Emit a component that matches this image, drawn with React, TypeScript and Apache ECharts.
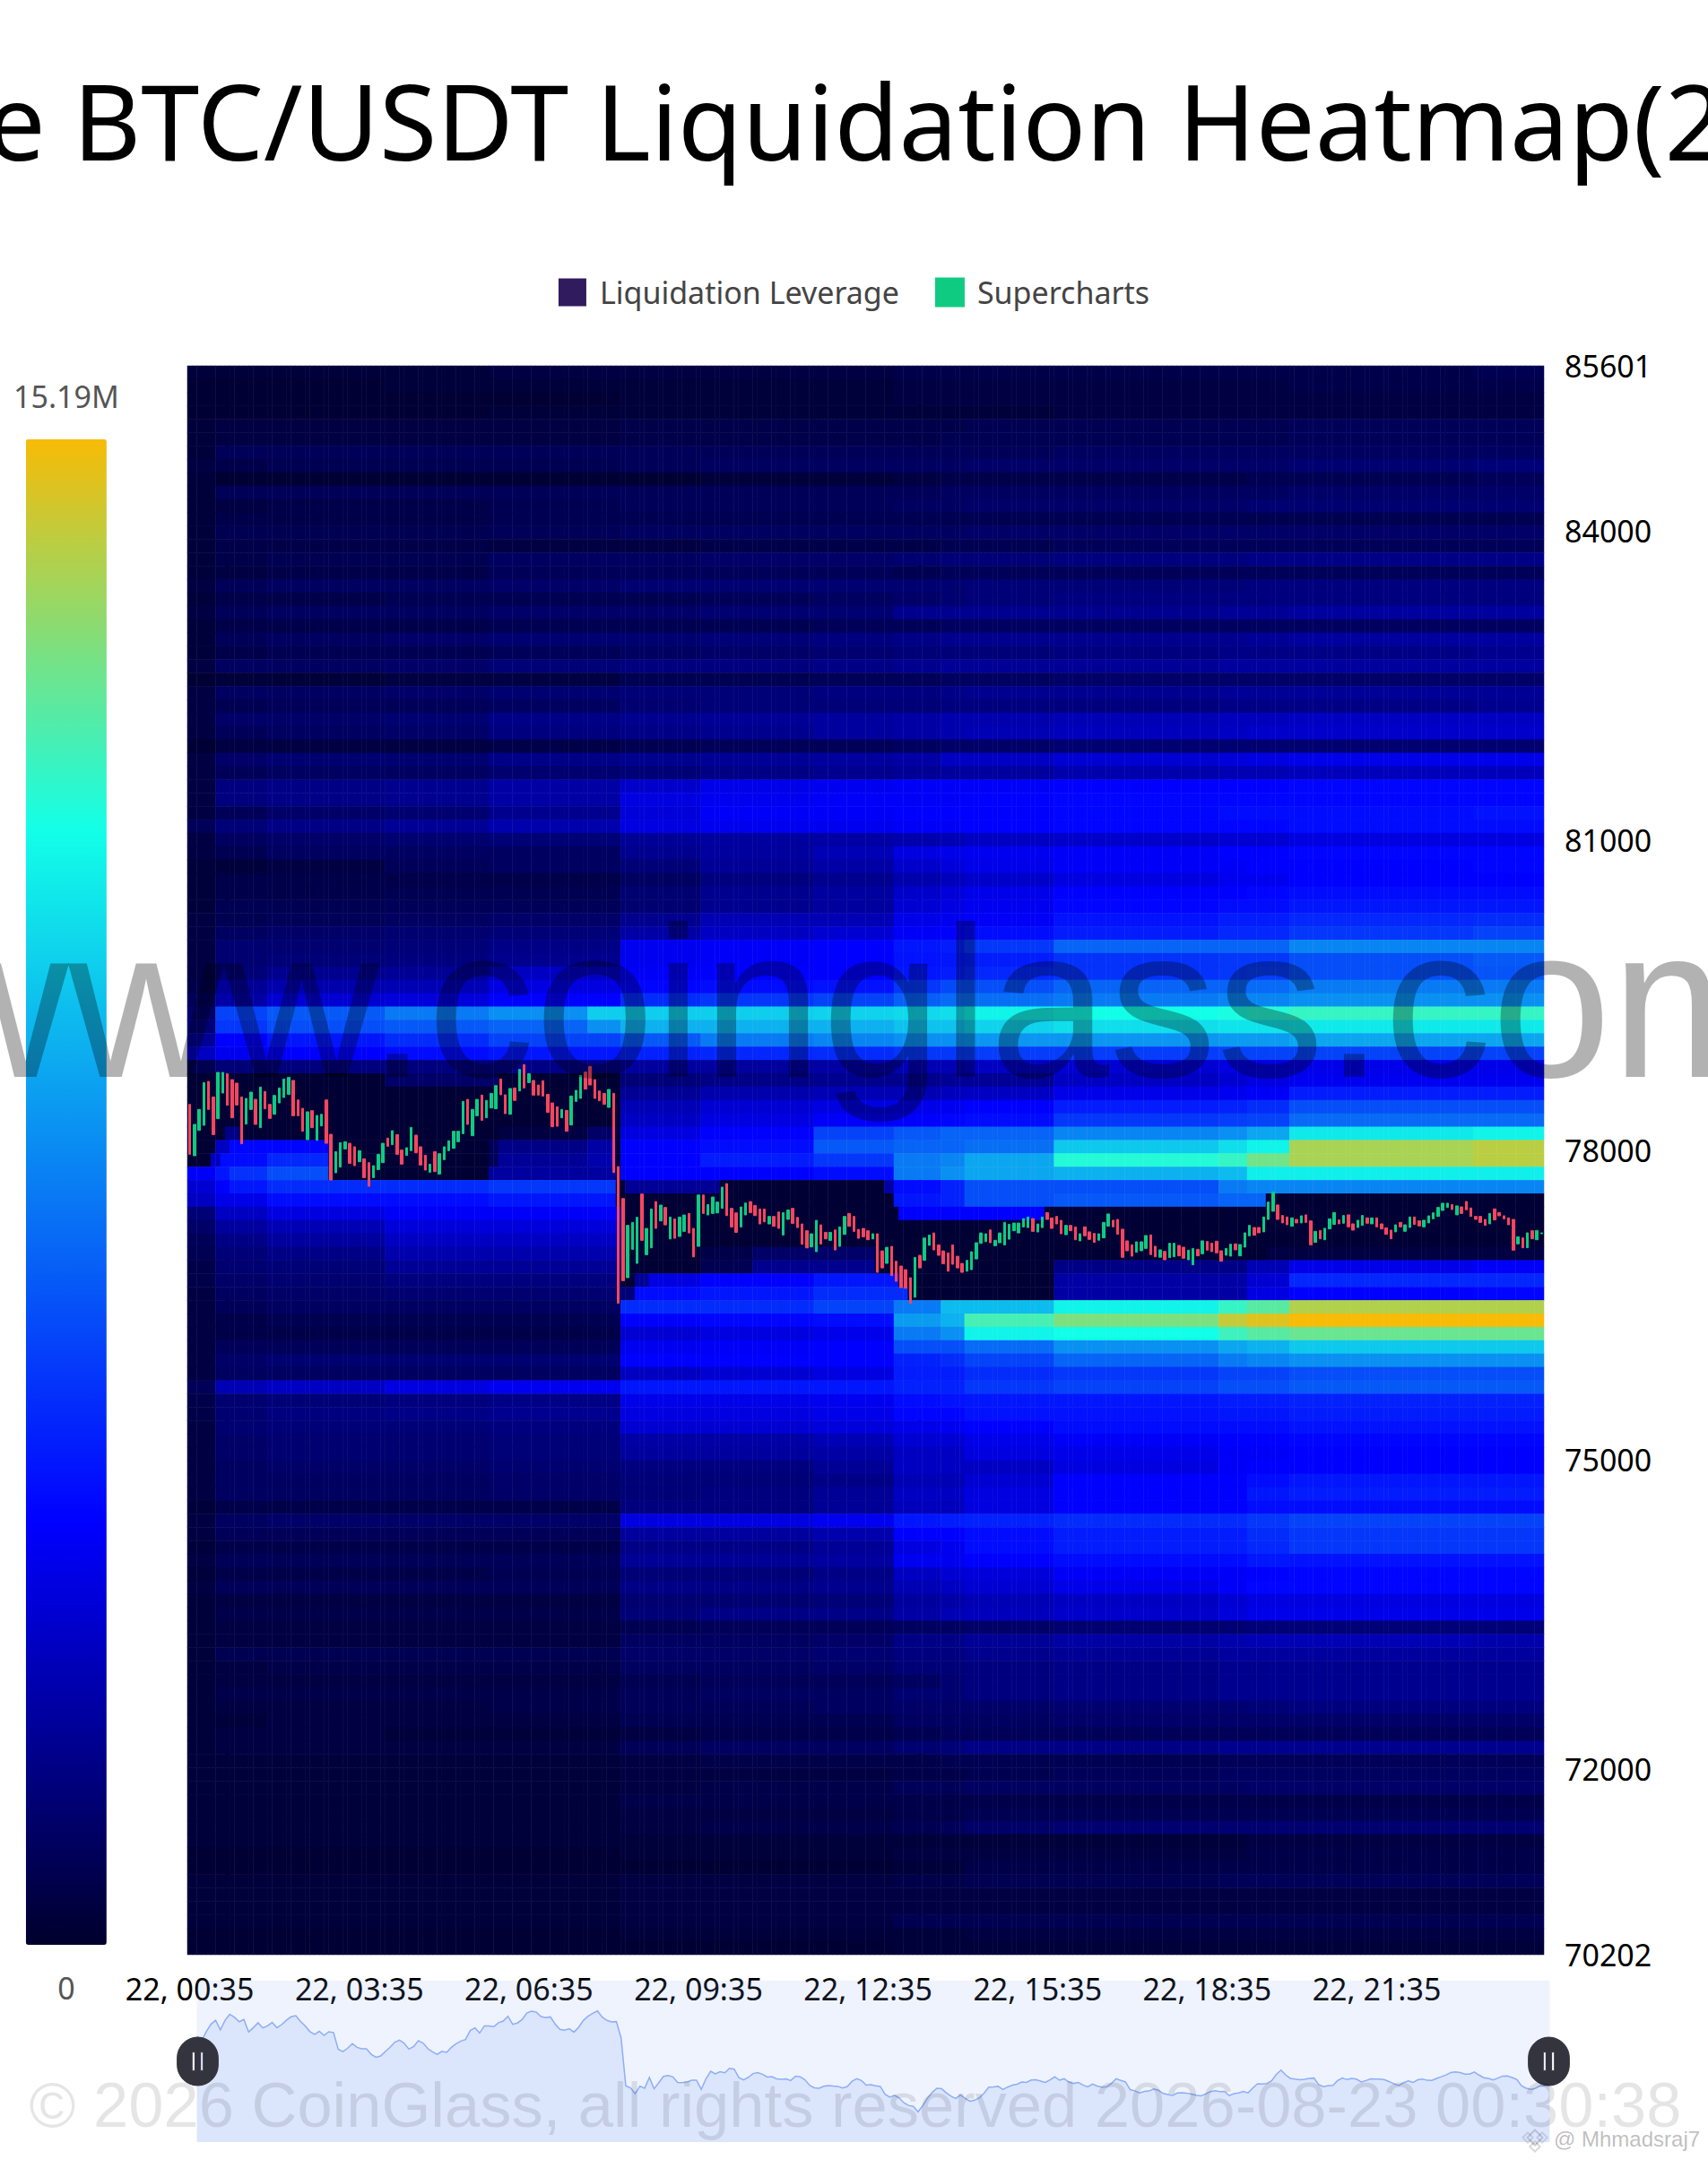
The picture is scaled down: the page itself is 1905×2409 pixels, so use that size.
import React, { useEffect, useRef } from "react";
import * as echarts from "echarts";

const maxLiquidation = 15190000;
const priceTicks = [85601, 84000, 81000, 78000, 75000, 72000, 70202];
const rowCount = 119;

// candle index where each heat column starts
const columnStarts = [0, 6, 17, 42, 64, 92, 109, 133, 150, 160, 165, 184, 219, 225, 234, 273];

// heat levels in percent of the maximum, top row first
const heatRows = [
[2,2,2,2,3,3,3,3,4,4,4,4,4,4,4,5],[1,1,1,2,2,2,2,2,3,3,3,3,3,3,4,4],[1,1,1,1,1,2,2,2,3,3,3,3,3,3,3,3],[1,1,1,1,2,2,2,2,2,2,2,3,3,3,3,3],
[2,3,3,3,3,4,4,4,4,4,5,5,5,5,6,6],[2,3,3,3,3,4,4,4,4,5,5,5,5,5,6,6],[2,6,6,6,6,6,6,6,6,6,6,7,7,7,7,7],[3,4,5,5,5,6,7,7,7,7,8,8,8,8,9,10],
[2,1,1,1,1,1,2,2,3,4,4,4,4,5,5,6],[2,6,6,6,6,6,6,6,6,7,7,7,7,7,8,8],[2,3,4,4,5,6,6,6,7,7,8,8,8,9,9,9],[2,4,4,4,5,5,5,5,5,5,5,5,5,5,5,5],
[2,5,5,5,6,7,7,7,7,7,8,8,8,8,8,8],[2,4,4,4,3,3,4,4,4,5,5,6,6,6,6,6],[2,4,5,5,7,7,8,8,9,10,10,11,11,12,12,12],[2,3,4,4,6,6,6,6,5,6,6,6,6,6,6,6],
[3,6,7,7,8,9,9,9,9,9,10,10,10,11,11,11],[2,4,4,5,5,5,6,7,8,9,10,11,11,11,11,11],[3,6,7,7,8,8,9,9,13,13,13,13,14,14,15,15],[2,4,4,4,5,5,5,6,6,7,7,7,7,7,7,7],
[2,6,7,8,9,9,10,11,12,13,13,13,13,14,15,15],[2,4,5,5,6,7,8,9,10,10,10,11,12,12,12,13],[3,7,7,8,10,11,11,12,13,14,14,14,15,15,15,15],[1,2,2,3,3,5,5,6,6,7,7,8,8,8,8,8],
[3,7,7,8,9,10,10,11,11,12,13,13,14,14,14,14],[3,5,6,6,7,9,10,10,10,11,11,11,12,12,12,13],[3,8,8,9,12,13,14,15,16,17,17,18,19,19,20,20],[3,6,7,8,11,12,13,15,16,17,18,19,20,21,21,21],
[1,3,3,3,4,5,6,6,7,8,8,9,9,9,9,9],[3,8,9,9,12,13,14,15,16,20,20,22,23,24,25,25],[3,6,7,7,9,10,12,13,14,15,15,17,18,18,19,19],[3,11,12,13,16,21,25,26,27,27,27,28,28,28,29,29],
[3,11,12,13,16,24,26,27,27,27,28,29,29,29,29,29],[3,6,8,9,13,23,27,27,28,28,28,29,30,30,30,31],[6,10,12,14,17,24,26,26,27,27,28,29,29,29,30,30],[3,7,8,9,10,14,15,16,17,18,20,21,22,22,24,24],
[3,5,7,7,7,13,15,18,24,25,26,27,28,28,29,29],[2,2,3,6,7,10,14,16,21,23,25,27,27,28,28,29],[2,4,4,4,4,7,11,13,17,19,21,24,26,26,28,28],[2,4,4,5,5,9,13,15,21,23,25,28,28,29,30,30],
[2,5,5,6,6,9,13,15,22,24,26,29,30,30,32,32],[3,5,6,7,8,13,18,18,25,26,27,31,33,33,35,36],[3,7,8,9,10,16,20,22,27,28,30,33,35,35,38,40],[3,9,9,10,12,26,27,28,32,33,38,46,46,46,52,52],
[3,9,10,11,13,26,27,28,31,32,33,37,38,38,42,44],[3,10,13,14,20,27,28,28,32,33,35,37,38,39,42,43],[4,14,17,18,24,29,30,31,38,41,42,46,46,47,50,50],[6,16,22,23,28,36,38,40,45,47,48,50,52,52,54,54],
[8,40,44,50,54,65,65,66,67,68,72,74,75,76,78,78],[10,38,42,44,46,60,60,60,63,63,66,68,69,69,70,70],[14,28,32,36,40,44,50,52,54,54,55,55,56,56,58,58],[20,26,28,30,32,34,35,36,38,38,39,39,40,40,40,40],
[5,10,11,11,12,15,15,16,18,18,20,22,24,24,25,25],[1,1,1,1,1,10,12,13,13,14,14,20,22,24,26,26],[1,1,1,1,1,14,17,18,18,19,20,25,26,27,33,33],[1,1,1,1,1,18,22,24,25,26,28,33,34,36,42,42],
[1,1,1,1,1,20,24,27,28,29,30,38,39,40,47,47],[1,1,1,1,1,24,28,40,44,46,46,52,54,58,70,72],[1,1,1,1,1,28,30,44,46,46,48,64,68,72,91,93],[1,1,1,1,1,28,33,38,50,52,58,76,78,85,91,93],
[1,1,1,1,1,28,28,30,50,54,58,60,62,71,71,71],[1,1,1,1,1,1,1,1,30,34,42,42,50,52,52,52],[1,1,1,1,1,1,1,1,32,34,42,44,46,46,1,1],[10,20,24,27,27,1,1,1,1,1,1,1,1,1,1,1],
[8,15,18,23,23,1,1,1,1,1,1,1,1,1,1,1],[6,12,15,20,20,1,1,1,1,1,1,1,1,1,1,1],[5,10,12,17,17,1,1,1,1,1,1,1,1,1,3,3],[4,9,10,14,14,1,1,1,1,1,1,12,12,18,25,27],
[4,8,9,11,11,1,1,1,1,1,1,16,16,22,35,35],[3,7,8,9,9,1,1,1,1,1,1,16,16,24,28,29],[3,6,7,7,7,36,36,40,50,62,62,72,78,82,92,92],[3,4,5,5,5,28,29,30,56,60,80,86,94,97,100,100],
[3,4,4,4,4,22,24,25,50,54,72,74,79,82,84,84],[3,6,6,6,6,26,27,28,42,42,47,54,58,60,64,64],[3,8,9,9,9,28,28,28,34,36,40,46,50,52,54,54],[3,7,7,7,7,20,22,24,33,33,36,38,40,40,42,42],
[6,18,20,24,26,32,32,32,34,34,38,40,42,42,44,44],[4,9,10,11,12,25,25,26,30,31,32,32,33,33,34,34],[4,9,11,12,13,24,24,25,29,29,31,31,32,32,33,33],[3,9,10,10,11,22,22,23,25,26,28,30,30,30,31,31],
[3,8,9,9,10,16,16,18,22,22,25,27,28,28,29,29],[3,8,9,9,10,15,15,16,20,20,24,25,27,27,28,28],[3,7,8,8,9,11,11,14,20,20,20,24,27,28,28,28],[3,7,7,7,8,10,10,12,18,18,22,28,28,30,32,32],
[3,7,7,7,8,10,11,14,20,20,24,28,28,32,33,33],[2,4,4,4,4,11,11,14,19,19,24,28,28,30,30,30],[3,7,8,8,8,24,24,26,32,33,34,36,36,38,40,40],[3,6,6,6,6,15,15,17,28,28,30,33,33,36,38,38],
[2,4,4,4,4,12,12,14,24,26,30,33,33,35,38,38],[3,6,6,6,6,14,14,15,26,26,28,30,30,32,31,31],[2,4,4,4,5,10,10,12,20,22,23,27,27,28,29,29],[3,6,6,6,6,12,12,13,18,20,22,25,27,29,29,29],
[2,3,3,3,3,9,9,10,15,16,18,20,22,24,24,24],[2,4,4,4,4,10,12,12,16,18,19,21,23,25,25,25],[2,3,3,3,3,5,6,6,7,7,8,9,9,10,10,10],[2,3,3,3,3,7,7,8,12,12,14,16,17,18,18,17],
[2,5,5,5,5,8,8,9,11,11,13,14,15,15,15,15],[2,3,4,4,4,7,7,8,10,10,11,12,13,13,13,13],[2,3,3,3,3,5,6,6,7,9,11,12,13,13,13,13],[2,4,4,4,4,6,7,7,9,9,11,12,13,13,13,13],
[2,3,3,3,4,6,6,7,8,8,8,9,9,10,11,11],[2,2,3,3,3,5,5,5,7,7,7,8,8,8,8,8],[2,3,3,2,2,3,4,4,5,6,6,6,6,6,6,6],[2,3,3,3,3,6,7,7,9,10,12,12,13,13,13,13],
[2,2,2,2,2,3,4,4,4,5,5,5,6,6,6,6],[2,2,2,2,2,3,3,3,4,4,5,6,7,7,7,7],[2,2,2,2,2,3,4,4,6,6,7,7,7,8,8,8],[2,2,2,2,2,4,4,4,4,4,4,4,4,4,4,4],
[2,2,2,2,2,3,3,3,4,4,5,5,5,5,5,5],[2,2,2,2,2,3,4,4,5,6,8,9,9,9,9,9],[2,2,2,2,2,2,2,2,2,2,2,2,2,3,3,3],[1,1,1,1,1,2,2,2,3,3,3,3,3,4,4,4],
[1,1,1,1,1,1,1,1,2,2,4,4,4,4,4,4],[2,2,2,2,2,3,3,3,4,4,5,5,6,6,6,6],[2,2,2,2,2,3,3,3,3,3,3,3,3,3,3,3],[2,2,2,2,2,3,3,3,3,3,3,3,3,3,3,3],
[2,2,2,2,2,3,3,3,5,5,5,5,5,5,5,5],[1,1,1,1,1,2,2,2,2,2,3,3,3,3,3,3],[1,1,1,1,1,1,1,1,2,2,2,2,2,2,2,2],
];

// local corrections: first candle, end candle, first row, last row, level
const heatPatches = [
[85,92,48,48,65],[85,92,49,49,54],
[42,66,53,53,8],
[8,11,57,57,12],[66,85,57,57,3],[85,91,57,57,8],
[6,9,58,58,20],[9,30,58,58,29],[64,66,58,58,6],[66,85,58,58,12],[85,91,58,58,16],
[5,7,59,59,20],[7,17,59,59,30],[17,30,59,59,35],[64,66,59,59,6],[66,85,59,59,14],[85,91,59,59,17],
[0,6,60,60,27],[6,9,60,60,32],[9,17,60,60,37],[17,30,60,60,42],[64,91,60,60,15],
[0,6,61,61,22],[6,9,61,61,28],[9,17,61,61,32],[17,64,61,61,36],[64,91,61,61,38],[93,113,61,61,14],[148,150,61,61,16],
[0,6,62,62,20],[6,17,62,62,25],[17,64,62,62,30],[64,91,62,62,32],[229,234,62,62,1],
[151,182,63,63,28],
[109,120,66,66,4],[120,146,66,66,8],[229,234,66,66,3],
[109,120,67,67,5],[120,146,67,67,13],
[95,98,68,68,14],[98,109,68,68,24],[109,133,68,68,28],[133,151,68,68,32],
[92,95,69,69,10],[95,109,69,69,30],[109,133,69,69,32],[133,153,69,69,36],
];

const candleTops = [
78443,78249,78394,78654,78666,78515,78753,78753,78741,78683,78649,78515,78501,78562,78492,78611,78568,78443,78530,78602,
78689,78704,78675,78486,78405,78371,78382,78336,78347,78486,78153,77985,78072,78081,78066,78032,77994,77916,77878,77849,
77959,78066,78116,78188,78150,78000,78023,78220,78145,78032,77950,77864,77985,77965,78032,78090,78182,78182,78472,78492,
78394,78492,78533,78481,78550,78625,78689,78536,78597,78602,78782,78828,78741,78675,78631,78672,78541,78457,78420,78394,
78385,78524,78579,78724,78756,78811,78683,78573,78550,78588,78550,77840,77530,77270,77299,77348,77574,77241,77429,77501,
77467,77444,77351,77333,77351,77371,77386,77241,77565,77565,77472,77545,77496,77641,77675,77435,77391,77449,77487,77501,
77464,77429,77429,77357,77357,77400,77394,77420,77435,77348,77284,77218,77189,77319,77275,77203,77203,77226,77255,77357,
77386,77357,77232,77241,77218,77189,77189,77023,77058,77067,76922,76876,76841,76763,76960,76980,77148,77177,77197,77081,
77023,77003,77081,76971,76902,76931,77015,77102,77197,77189,77226,77125,77197,77299,77281,77293,77293,77336,77351,77336,
77284,77351,77394,77342,77357,77319,77270,77270,77255,77189,77256,77207,77192,77189,77299,77381,77320,77328,77233,77120,
77082,77111,77111,77172,77178,77068,77033,77018,77097,77097,77076,77059,77030,77047,77039,77120,77114,77097,77117,77024,
77047,77088,77091,77085,77198,77270,77250,77250,77352,77496,77595,77468,77366,77352,77343,77328,77363,77372,77314,77213,
77221,77242,77334,77395,77323,77366,77372,77285,77320,77366,77343,77343,77343,77285,77247,77224,77276,77299,77276,77352,
77352,77314,77320,77363,77392,77444,77485,77485,77473,77459,77450,77502,77439,77357,77357,77328,77386,77430,77395,77363,
77343,77328,77160,77149,77198,77218,77221,77198,
];
const candleBottoms = [
77959,77945,78191,78240,78394,78150,78304,78553,78434,78313,78437,78061,78252,78394,78249,78217,78400,78307,78347,78457,
78510,78539,78333,78333,78182,78101,78217,78095,78234,78066,77710,77780,77835,78011,77872,77849,77887,77733,77649,77733,
77811,77878,78037,78052,77959,77864,77948,77994,77974,77855,77806,77785,77791,77768,77907,77994,78017,78081,78159,78249,
78139,78333,78289,78313,78408,78400,78536,78353,78347,78481,78573,78602,78654,78533,78533,78524,78365,78226,78231,78313,
78182,78243,78472,78501,78591,78631,78501,78478,78443,78414,77782,76516,76734,76763,77038,76902,77125,76986,77052,77241,
77313,77275,77139,77145,77163,77212,77197,76965,77067,77386,77371,77386,77391,77435,77365,77255,77203,77255,77371,77394,
77365,77284,77304,77284,77261,77241,77177,77328,77290,77249,77087,77052,77061,77015,77090,77139,77125,77032,77067,77183,
77261,77212,77145,77160,77131,77139,76815,76858,76902,76783,76728,76667,76661,76516,76574,76858,76931,77076,77032,76980,
76899,76826,76893,76858,76815,76826,76841,76945,77096,77113,77102,77073,77102,77081,77136,77218,77197,77255,77249,77212,
77206,77249,77328,77241,77284,77189,77180,77218,77131,77120,77169,77134,77105,77126,77149,77262,77256,77184,76961,77024,
76972,77010,77024,77047,76987,76966,76961,76937,76958,76966,76975,76952,76937,76888,76975,76995,77030,77016,77004,76923,
76981,76972,77033,76975,77059,77169,77175,77198,77207,77328,77407,77328,77294,77276,77262,77294,77294,77299,77082,77105,
77140,77131,77236,77279,77285,77291,77256,77224,77250,77270,77291,77285,77256,77236,77184,77140,77207,77256,77213,77250,
77279,77265,77256,77294,77334,77357,77415,77444,77424,77372,77386,77421,77357,77328,77299,77270,77285,77323,77363,77334,
77276,77030,77091,77053,77053,77140,77131,77189,
];
const candleDirections =
  "rgggrrggrr" + "rrggrgrrgg" + "ggrrrgrggr" + "rgggrrgrrg" + "ggrgrrggrr" + "rgrggggggr" + "ggrgggrrgr" + "grgrrrrrrg" + "rgggrrrrrg" +
  "rrrgggrggr" + "grgrggrrgr" + "ggggrrrggr" + "rrrgrrggrr" + "rrggrrgrgg" + "rrrrrgrrgr" + "rrrrgrggrr" + "rrrrrggggg" + "rggggggggr" +
  "ggrrrrgrrg" + "rrrgggrrrr" + "rgggrrgrgg" + "rrggrgrrrr" + "ggrgggrrgg" + "grrrgrgrrg" + "rgggrgrrgg" + "rgrrrrgrgg" + "rrggggggrg" + "rrrrrrgrrr" + "rrgrgrgg";

const timeLabels: string[] = [];
for (let i = 0; i < 288; i++) {
  const m = 35 + i * 5;
  const h = Math.floor(m / 60);
  const day = h >= 24 ? 23 : 22;
  timeLabels.push(`${day}, ${String(h % 24).padStart(2, "0")}:${String(m % 60).padStart(2, "0")}`);
}

const title = "Binance BTC/USDT Liquidation Heatmap(24 hour)";
const FONT = "'Noto Sans', sans-serif";

function ramp(): string[] {
  const stops: [number, number[]][] = [
    [0, [0, 0, 44]],
    [0.28, [0, 0, 255]],
    [0.74, [18, 255, 232]],
    [1, [248, 187, 6]],
  ];
  const out: string[] = [];
  for (let i = 0; i <= 50; i++) {
    const t = i / 50;
    let s = 0;
    while (s < stops.length - 2 && t > stops[s + 1][0]) s++;
    const f = (t - stops[s][0]) / (stops[s + 1][0] - stops[s][0]);
    const c = stops[s][1].map((a, k) => Math.round(a + (stops[s + 1][1][k] - a) * f));
    out.push(`rgb(${c[0]},${c[1]},${c[2]})`);
  }
  return out;
}

function buildHeat(): number[][] {
  const grid: number[][] = heatRows.map((row) => {
    const cells: number[] = new Array(288);
    for (let c = 0; c < columnStarts.length; c++) {
      const end = c + 1 < columnStarts.length ? columnStarts[c + 1] : 288;
      for (let i = columnStarts[c]; i < end; i++) cells[i] = row[c];
    }
    return cells;
  });
  heatPatches.forEach(([a, b, r0, r1, v]) => {
    for (let r = r0; r <= r1; r++) for (let i = a; i < b; i++) grid[r][i] = v;
  });
  const out: number[][] = [];
  grid.forEach((cells, r) => cells.forEach((v, i) => out.push([i, r, (v / 100) * maxLiquidation])));
  return out;
}

export default function App() {
  const ref = useRef<HTMLDivElement>(null);
  useEffect(() => {
    const chart = echarts.init(ref.current!, null, { renderer: "svg" });
    const rowLabels = Array.from({ length: rowCount }, (_, k) => String(k));
    const candles = candleTops.map((t, i) => {
      const b = candleBottoms[i];
      return candleDirections[i] === "g" ? [b, t, b, t] : [t, b, b, t];
    });
    const midpoints = candleTops.map((t, i) => (t + candleBottoms[i]) / 2);
    chart.setOption({
      animation: false,
      backgroundColor: "#fff",
      title: {
        text: title,
        left: 961,
        top: 70,
        textAlign: "center",
        textStyle: { fontSize: 117, fontWeight: "normal", color: "#000", fontFamily: FONT },
      },
      legend: {
        left: "center",
        top: 304,
        itemWidth: 31,
        itemHeight: 31,
        itemGap: 40,
        textStyle: { fontSize: 34, color: "#444", fontFamily: FONT, padding: [0, 0, 0, 10] },
        data: [
          { name: "Liquidation Leverage", icon: "rect", itemStyle: { color: "#301b5e" } },
          { name: "Supercharts", icon: "rect", itemStyle: { color: "#0ecb81", borderColor: "#0ecb81" } },
        ],
      },
      grid: { left: 209, right: 183, top: 408, bottom: 229 },
      xAxis: {
        type: "category",
        data: timeLabels,
        axisLine: { show: false },
        axisTick: { show: false },
        splitLine: { show: false },
        axisLabel: { interval: 35, margin: 21, fontSize: 34, color: "#000", fontFamily: FONT },
      },
      yAxis: [
        {
          type: "category",
          data: rowLabels,
          inverse: true,
          show: false,
        },
        {
          type: "value",
          min: 70202,
          max: 85601,
          position: "right",
          axisLine: { show: false },
          axisTick: { show: false },
          splitLine: { show: false },
          axisLabel: { customValues: priceTicks, margin: 23, fontSize: 34, color: "#000", fontFamily: FONT, padding: [0, 0, 10, 0], formatter: (v: number) => String(v) },
        },
      ],
      visualMap: {
        type: "continuous",
        seriesIndex: 0,
        min: 0,
        max: maxLiquidation,
        calculable: false,
        hoverLink: false,
        left: 0,
        top: 410,
        itemWidth: 90,
        itemHeight: 1679,
        text: ["15.19M", "0"],
        textGap: 31,
        textStyle: { fontSize: 34, color: "#555", fontFamily: FONT },
        inRange: { color: ramp() },
      },
      dataZoom: [
        {
          type: "slider",
          xAxisIndex: 0,
          left: 217,
          right: 179,
          top: 2209,
          height: 180,
          start: 0,
          end: 100,
          filterMode: "none",
          showDetail: false,
          brushSelect: false,
          moveHandleSize: 0,
          borderColor: "transparent",
          fillerColor: "rgba(135,165,245,0.13)",
          selectedDataBackground: {
            lineStyle: { color: "#8fb0f7", width: 1.5, opacity: 1 },
            areaStyle: { color: "#8fb0f7", opacity: 0.2 },
          },
          dataBackground: { lineStyle: { opacity: 0 }, areaStyle: { opacity: 0 } },
          handleSize: 54,
          handleIcon:
            "path://M22,0 C34,0 44,10 44,22 V30 C44,42 34,52 22,52 C10,52 0,42 0,30 V22 C0,10 10,0 22,0 Z M16,16 V36 H19 V16 Z M25,16 V36 H28 V16 Z",
          handleStyle: { color: "#34343e", borderColor: "#34343e" },
        },
      ],
      series: [
        {
          name: "Liquidation Leverage",
          type: "heatmap",
          xAxisIndex: 0,
          yAxisIndex: 0,
          data: buildHeat(),
          progressive: 0,
          silent: true,
          emphasis: { disabled: true },
        },
        {
          name: "midpoint",
          type: "line",
          xAxisIndex: 0,
          yAxisIndex: 1,
          data: midpoints,
          showSymbol: false,
          silent: true,
          lineStyle: { opacity: 0 },
        },
        {
          name: "Supercharts",
          type: "candlestick",
          xAxisIndex: 0,
          yAxisIndex: 1,
          data: candles,
          barWidth: 3,
          silent: true,
          itemStyle: { color: "#0ecb81", color0: "#f6465d", borderColor: "#0ecb81", borderColor0: "#f6465d", borderWidth: 1 },
        },
      ],
      graphic: [
        {
          type: "text",
          x: 950,
          y: 1118,
          z: 100,
          silent: true,
          style: { text: "www.coinglass.com", align: "center", verticalAlign: "middle", font: "240px 'Liberation Sans', sans-serif", fill: "rgba(0,0,0,0.3)" },
        },
        {
          type: "text",
          x: 954,
          y: 2347,
          z: 100,
          silent: true,
          style: { text: "© 2026 CoinGlass, all rights reserved 2026-08-23 00:30:38", align: "center", verticalAlign: "middle", font: "70.5px 'Liberation Sans', sans-serif", fill: "rgba(0,0,0,0.1)" },
        },
        {
          type: "text",
          x: 1733,
          y: 2385,
          z: 101,
          silent: true,
          style: { text: "@ Mhmadsraj7", align: "left", verticalAlign: "middle", font: "24px 'Liberation Sans', sans-serif", fill: "rgba(0,0,0,0.27)" },
        },
        {
          type: "group",
          x: 1712,
          y: 2384,
          z: 101,
          silent: true,
          children: [
            { type: "rect", rotation: Math.PI / 4, shape: { x: -6, y: -6, width: 12, height: 12 }, style: { fill: "none", stroke: "rgba(0,0,0,0.2)", lineWidth: 2 } },
            { type: "rect", rotation: Math.PI / 4, x: -8, shape: { x: -4, y: -4, width: 8, height: 8 }, style: { fill: "none", stroke: "rgba(0,0,0,0.15)", lineWidth: 2 } },
            { type: "rect", rotation: Math.PI / 4, x: 8, shape: { x: -4, y: -4, width: 8, height: 8 }, style: { fill: "none", stroke: "rgba(0,0,0,0.15)", lineWidth: 2 } },
            { type: "rect", rotation: Math.PI / 4, y: 10, shape: { x: -4, y: -4, width: 8, height: 8 }, style: { fill: "none", stroke: "rgba(0,0,0,0.15)", lineWidth: 2 } },
          ],
        },
      ],
    });
    return () => chart.dispose();
  }, []);
  return <div ref={ref} style={{ position: "absolute", left: 0, top: 0, width: 1905, height: 2409 }} />;
}
